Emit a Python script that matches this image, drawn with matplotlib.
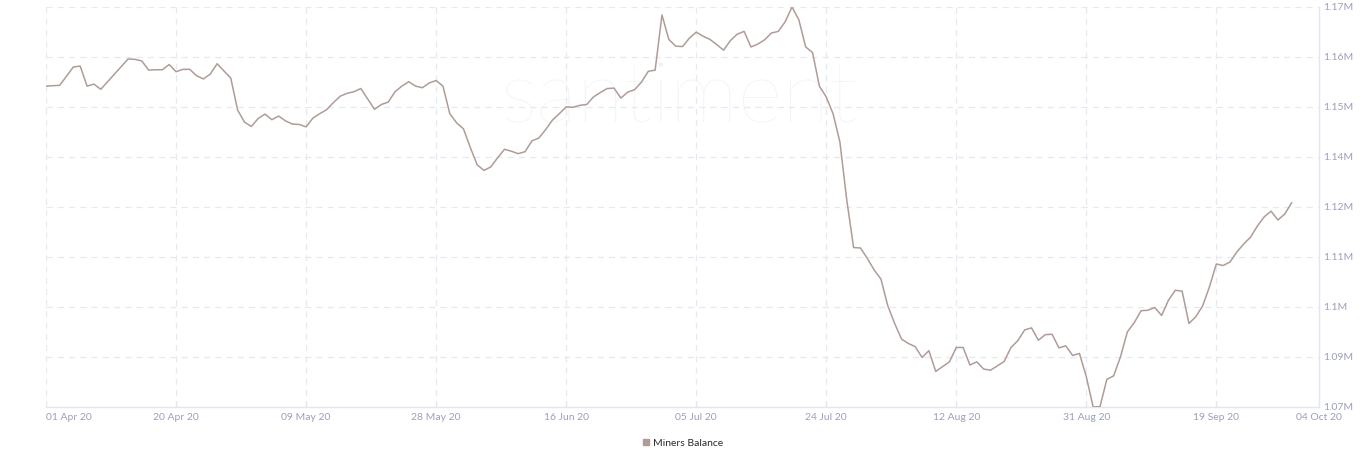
import numpy as np
import pandas as pd
import matplotlib
matplotlib.use("Agg")
import matplotlib.pyplot as plt
import matplotlib.dates as mdates
from matplotlib.lines import Line2D

# ---- data ----
start_date = "2020-04-01"
miners_balance_m = [
    1.1543, 1.1544, 1.1545, 1.1568, 1.1591, 1.1593, 1.1543, 1.1548, 1.1535, 1.1554,
    1.1573, 1.1592, 1.1611, 1.1610, 1.1606, 1.1583, 1.1584, 1.1584, 1.1597, 1.1579,
    1.1585, 1.1585, 1.1569, 1.1561, 1.1573, 1.1599, 1.1581, 1.1563, 1.1483, 1.1453,
    1.1442, 1.1462, 1.1473, 1.1459, 1.1468, 1.1456, 1.1448, 1.1447, 1.1441, 1.1463,
    1.1474, 1.1484, 1.1502, 1.1518, 1.1525, 1.1529, 1.1537, 1.1511, 1.1485, 1.1497,
    1.1503, 1.1529, 1.1543, 1.1554, 1.1543, 1.1539, 1.1551, 1.1557, 1.1543, 1.1474,
    1.1451, 1.1436, 1.1389, 1.1346, 1.1332, 1.1341, 1.1364, 1.1385, 1.1380, 1.1374,
    1.1379, 1.1406, 1.1413, 1.1434, 1.1458, 1.1474, 1.1491, 1.1490, 1.1495, 1.1497,
    1.1516, 1.1527, 1.1537, 1.1538, 1.1513, 1.1528, 1.1534, 1.1553, 1.1580, 1.1583,
    1.1721, 1.1660, 1.1643, 1.1642, 1.1663, 1.1678, 1.1668, 1.1660, 1.1647, 1.1633,
    1.1657, 1.1673, 1.1680, 1.1641, 1.1648, 1.1659, 1.1676, 1.1680, 1.1704, 1.1741,
    1.1709, 1.1641, 1.1627, 1.1543, 1.1516, 1.1474, 1.1403, 1.1258, 1.1139, 1.1138,
    1.1112, 1.1083, 1.1060, 1.0993, 1.0949, 1.0910, 1.0899, 1.0891, 1.0864, 1.0881,
    1.0829, 1.0841, 1.0853, 1.0889, 1.0889, 1.0845, 1.0853, 1.0835, 1.0832, 1.0843,
    1.0854, 1.0889, 1.0906, 1.0933, 1.0938, 1.0907, 1.0921, 1.0922, 1.0888, 1.0893,
    1.0869, 1.0874, 1.0816, 1.0740, 1.0741, 1.0809, 1.0818, 1.0866, 1.0928, 1.0951,
    1.0981, 1.0982, 1.0989, 1.0969, 1.1007, 1.1032, 1.1030, 1.0949, 1.0966, 1.0993,
    1.1041, 1.1098, 1.1094, 1.1103, 1.1128, 1.1148, 1.1165, 1.1193, 1.1216, 1.1230,
    1.1208, 1.1223, 1.1251,
]
x_tick_dates = ["2020-04-01", "2020-04-20", "2020-05-09", "2020-05-28", "2020-06-16",
                "2020-07-05", "2020-07-24", "2020-08-12", "2020-08-31", "2020-09-19",
                "2020-10-04"]
x_tick_labels = ["01 Apr 20", "20 Apr 20", "09 May 20", "28 May 20", "16 Jun 20",
                 "05 Jul 20", "24 Jul 20", "12 Aug 20", "31 Aug 20", "19 Sep 20",
                 "04 Oct 20"]
y_tick_labels = ["1.07M", "1.09M", "1.1M", "1.11M", "1.12M", "1.14M", "1.15M",
                 "1.16M", "1.17M"]
series_name = "Miners Balance"

# ---- style ----
line_color = "#b09c96"
grid_color = "#e6e8f2"
axis_color = "#e3e5f0"
tick_text_color = "#9aa0bb"
plt.rcParams['font.family'] = ['Lato', 'DejaVu Sans']

W, H = 1366, 462
fig = plt.figure(figsize=(W / 100, H / 100), dpi=100)
left, right, top, bottom = 46, 1319, 7, 407
ax = fig.add_axes([left / W, (H - bottom) / H, (right - left) / W, (bottom - top) / H])

dates = pd.date_range(start_date, periods=len(miners_balance_m), freq="D")
vals = np.array(miners_balance_m)

# watermark
ax.text(0.497, 0.77, "santiment", transform=ax.transAxes, ha="center", va="center",
        fontsize=62, color="#f3f4f9", fontweight="light", zorder=0)

ax.plot(dates, vals, color=line_color, lw=1.1, zorder=3, solid_joinstyle="round")

xt = pd.to_datetime(x_tick_dates)
ax.set_xlim(pd.Timestamp(x_tick_dates[0]), pd.Timestamp(x_tick_dates[-1]))
ymin, ymax = vals.min(), vals.max()
ax.set_ylim(ymin, ymax)
yt = np.linspace(ymin, ymax, len(y_tick_labels))

ax.set_xticks(xt)
ax.set_xticklabels(x_tick_labels)
ax.set_yticks(yt)
ax.set_yticklabels(y_tick_labels)

# grid
for d in xt[:-1]:
    ax.axvline(d, color=grid_color, lw=0.9, ls=(0, (5, 4)), zorder=1)
for v in yt[1:]:
    ax.axhline(v, color=grid_color, lw=0.9, ls=(0, (5, 4)), zorder=1)

for s in ["top", "left"]:
    ax.spines[s].set_visible(False)
for s in ["bottom", "right"]:
    ax.spines[s].set_color(axis_color)
    ax.spines[s].set_linewidth(1.0)

ax.yaxis.tick_right()
ax.tick_params(axis="y", length=0, pad=3, labelsize=7.5, labelcolor=tick_text_color)
ax.tick_params(axis="x", length=4, direction="in", color=axis_color, pad=4,
               labelsize=7.5, labelcolor=tick_text_color)
for lab in ax.get_yticklabels():
    lab.set_verticalalignment("center")
xl = ax.get_xticklabels()
xl[0].set_horizontalalignment("left")

handle = Line2D([], [], marker="s", ls="none", color=line_color, markersize=5)
fig.legend([handle], [series_name], loc="center", bbox_to_anchor=(683 / W, 1 - 443 / H),
           frameon=False, fontsize=7.5, handlelength=0.6, handletextpad=0.4,
           labelcolor="#2b2b2b")

fig.savefig("out.png", dpi=100, facecolor="white")
